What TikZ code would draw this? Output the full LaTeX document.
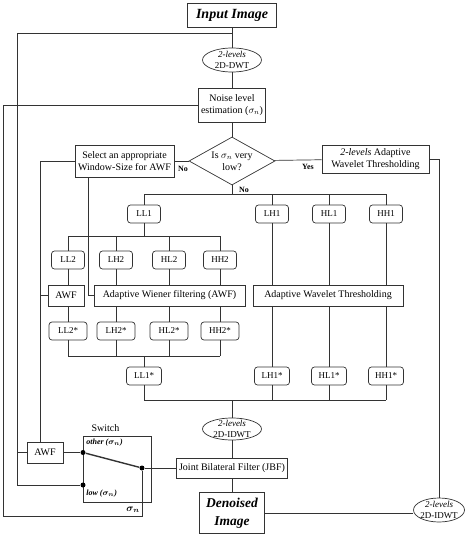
\documentclass[tikz,border=0pt]{standalone}
\usepackage{fontspec}
\setmainfont{Liberation Serif}
\usetikzlibrary{shapes.geometric}

\begin{document}
\begin{tikzpicture}[x=1pt, y=-1pt, line width=0.7pt, color=black!80]
  \tikzstyle{every node}=[text=black]
  \tikzstyle{box}=[rectangle, draw, inner sep=1pt, align=center, font=\fontsize{10}{12}\selectfont]
  \tikzstyle{band}=[rectangle, draw, rounded corners=3pt, minimum height=18pt, inner sep=1pt, font=\fontsize{9}{11}\selectfont]
  \tikzstyle{dwt}=[ellipse, draw, inner sep=-2pt, align=center, font=\fontsize{9}{10.5}\selectfont]
  \tikzstyle{dot}=[circle, fill=black, inner sep=0pt, minimum size=5pt]
  \tikzstyle{lbl}=[inner sep=0pt, font=\fontsize{8}{9}\selectfont\bfseries\itshape\boldmath]

  \useasboundingbox (0,0) rectangle (474,538);

  \node[box, minimum width=89pt, minimum height=24pt, font=\fontsize{14}{16}\selectfont\bfseries\itshape] (in) at (232,15) {Input Image};
  \node[dwt, minimum width=59pt, minimum height=24pt] (dwt) at (232,60) {\textit{2-levels}\\2D-DWT};
  \node[box, minimum width=67pt, minimum height=34pt] (noise) at (232,105) {Noise level\\estimation ($\sigma_n$)};
  \node[diamond, draw, aspect=1.8, inner sep=0pt, minimum width=86pt, minimum height=48pt, align=center, font=\fontsize{10}{12}\selectfont] (dec) at (232,161) {Is $\sigma_n$ very\\low?};
  \node[box, minimum width=99pt, minimum height=32pt] (sel) at (124.5,161) {Select an appropriate\\Window-Size for AWF};
  \node[box, minimum width=107pt, minimum height=28pt] (awt2) at (375.5,159) {\textit{2-levels} Adaptive\\Wavelet Thresholding};

  \foreach \n/\x in {LL1/144, LH1/272, HL1/329, HH1/386}
  {
    \node[band, minimum width=33pt] (\n) at (\x,214) {\n};
    \node[band, minimum width=35pt] (d\n) at (\x,376) {\n*};
  }

  \foreach \n/\x in {LL2/68, LH2/116, HL2/169, HH2/220}
  {
    \node[band, minimum width=33pt] (\n) at (\x,260) {\n};
    \node[band, minimum width=38pt] (d\n) at (\x,331) {\n*};
  }

  \node[box, minimum width=36pt, minimum height=21pt] (awfa) at (66,295.5) {AWF};
  \node[box, minimum width=151pt, minimum height=21pt] (awf) at (169.5,295.5) {Adaptive Wiener filtering (AWF)};
  \node[box, minimum width=150pt, minimum height=21pt] (awt) at (328,295.5) {Adaptive Wavelet Thresholding};

  \node[dwt, minimum width=59pt, minimum height=22pt] (idwt) at (232,429) {\textit{2-levels}\\2D-IDWT};
  \node[box, minimum width=111pt, minimum height=20pt] (jbf) at (232,468) {Joint Bilateral Filter (JBF)};
  \node[box, minimum width=65pt, minimum height=41pt, font=\fontsize{13.5}{18}\selectfont\bfseries\itshape] (out) at (232,513) {Denoised\\Image};
  \node[dwt, minimum width=51pt, minimum height=24pt] (idwt2) at (439,510) {\textit{2-levels}\\2D-IDWT};

  \node[box, minimum width=68pt, minimum height=66pt] (sw) at (117,469) {};
  \node[font=\fontsize{10}{12}\selectfont] (swl) at (105.5,428) {Switch};
  \node[box, minimum width=36pt, minimum height=21pt] (awfs) at (45,452.5) {AWF};
  \node[dot] (oth) at (83,452.5) {};
  \node[dot] (low) at (83,485) {};
  \node[dot] (piv) at (142,468) {};
  \node[lbl, anchor=west] (tOth) at (86,443) {other ($\sigma_n$)};
  \node[lbl, anchor=west] (tLow) at (86,494) {low ($\sigma_n$)};
  \node[lbl, font=\fontsize{10}{12}\selectfont\bfseries\itshape\boldmath] (tSig) at (133,510) {$\sigma_n$};

  \node[lbl, font=\fontsize{8}{9}\selectfont\bfseries] (tNo) at (183,169) {No};
  \node[lbl, font=\fontsize{8}{9}\selectfont\bfseries] (tYes) at (308,167) {Yes};
  \node[lbl, font=\fontsize{8}{9}\selectfont\bfseries] (tNo2) at (244,190) {No};

  \coordinate (tin) at (232,33);
  \coordinate (x0) at (3,0);
  \coordinate (x1) at (17,0);
  \coordinate (x2) at (40,0);
  \coordinate (x3) at (88,0);
  \coordinate (yb) at (0,516);
  \coordinate (j1) at (232,194);
  \coordinate (j2) at (144,236);
  \coordinate (j3) at (144,356);
  \coordinate (j4) at (232,400);

  \draw (in) -- (dwt) -- (noise) -- (dec);
  \draw (tin) -| (x1 |- low) -- (low);
  \draw (x1 |- awfs) -- (awfs);
  \draw (noise.west) -- (noise.west -| x0) |- (piv |- yb) -- (piv);
  \draw (sel.west) -| (x2 |- awfs.north);
  \draw (x2 |- awfa) -- (awfa);
  \draw (sel.south -| x3) |- (awf.west);
  \draw (dec) -- (sel);
  \draw (dec) -- (awt2);
  \draw (awt2.east) -| (idwt2.north);
  \draw (out.east) -- (out.east -| idwt2.west);

  \draw (dec) -- (j1);
  \draw (LL1 |- j1) -- (HH1 |- j1);
  \foreach \n in {LL1, LH1, HL1, HH1}
    \draw (\n) -- (\n |- j1);

  \draw (LL1) -- (j2);
  \draw (LL2 |- j2) -- (HH2 |- j2);
  \draw (LL2 |- j3) -- (HH2 |- j3);
  \foreach \n in {LL2, LH2, HL2, HH2}
  {
    \draw (\n) -- (\n |- j2);
    \draw (d\n) -- (d\n |- j3);
  }
  \draw (j3) -- (dLL1);

  \draw (LL2) -- (LL2 |- awfa.north);
  \draw (dLL2) -- (dLL2 |- awfa.south);
  \foreach \n in {LH2, HL2, HH2}
  {
    \draw (\n) -- (\n |- awf.north);
    \draw (d\n) -- (d\n |- awf.south);
  }
  \foreach \n in {LH1, HL1, HH1}
  {
    \draw (\n) -- (\n |- awt.north);
    \draw (d\n) -- (d\n |- awt.south);
  }

  \draw (dLL1 |- j4) -- (dHH1 |- j4);
  \foreach \n in {LL1, LH1, HL1, HH1}
    \draw (d\n) -- (d\n |- j4);
  \draw (j4) -- (idwt) -- (jbf) -- (out);

  \draw (awfs) -- (oth);
  \draw[line width=1.4pt] (oth) -- (piv);
  \draw (piv) -- (jbf);
\end{tikzpicture}
\end{document}
